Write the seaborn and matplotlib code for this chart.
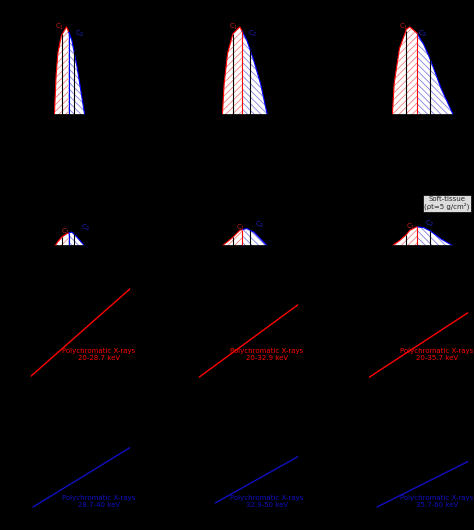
import matplotlib
matplotlib.use("Agg")
import matplotlib.pyplot as plt
import seaborn as sns
import numpy as np

sns.set_theme(style="white")
plt.rcParams['font.family'] = ['DejaVu Sans']
plt.rcParams['hatch.linewidth'] = 0.6

kvp = [28.7, 32.9, 35.7]
split = [24.1, 25.6, 27.2]
vlines = [[22.3, 25.6], [23.0, 28.0], [23.8, 30.7]]
spec_e = [[20, 20.5, 21, 22, 23.5, 25, 26.5, 28.7],
          [20, 20.5, 21.5, 23, 25, 27, 29, 31, 32.9],
          [20, 20.5, 22, 24, 25, 27, 29, 31, 34, 37.5]]
spec_i = [[0, 0.45, 0.7, 0.9, 1.0, 0.85, 0.55, 0.0],
          [0, 0.35, 0.7, 0.92, 1.0, 0.85, 0.62, 0.35, 0.0],
          [0, 0.35, 0.75, 0.97, 1.0, 0.93, 0.8, 0.62, 0.3, 0.0]]
soft_i = [[0, 0.02, 0.05, 0.1, 0.14, 0.16, 0.1, 0.0],
          [0, 0.02, 0.05, 0.1, 0.18, 0.2, 0.16, 0.08, 0.0],
          [0, 0.02, 0.06, 0.13, 0.18, 0.22, 0.21, 0.17, 0.08, 0.0]]
red_x = [[0, 1], [0, 1], [0, 1]]
red_y = [[0.03, 0.92], [0.02, 0.76], [0.02, 0.68]]
blue_x = [[0.03, 1], [0.17, 1], [0.09, 1]]
blue_y = [[0.03, 0.63], [0.07, 0.54], [0.03, 0.49]]
red_lab = ["20-28.7 keV", "20-32.9 keV", "20-35.7 keV"]
blue_lab = ["28.7-40 keV", "32.9-50 keV", "35.7-60 keV"]

W, H = 474, 530
fig = plt.figure(figsize=(4.74, 5.30), dpi=100, facecolor="black")
colx = [30, 198, 368]
rows = [(18, 115), (150, 246), (280, 380), (410, 510)]

def mkax(c, r):
    x0 = colx[c]; y0, y1 = rows[r]
    ax = fig.add_axes([x0 / W, 1 - y1 / H, 101 / W, (y1 - y0) / H])
    ax.set_facecolor("black")
    for s in ax.spines.values():
        s.set_color("black")
    ax.set_xticks([]); ax.set_yticks([])
    return ax

for c in range(3):
    for r, inten in enumerate([spec_i[c], soft_i[c]]):
        ax = mkax(c, r)
        e = np.array(spec_e[c]); i = np.array(inten)
        ee = np.linspace(e[0], e[-1], 200)
        ii = np.interp(ee, e, i)
        m = ee <= split[c]
        k = np.argmax(~m)
        ax.fill_between(ee[:k + 1], 0, ii[:k + 1], facecolor="white", edgecolor="#f08080", hatch="/////", lw=0)
        ax.fill_between(ee[k - 1:], 0, ii[k - 1:], facecolor="white", edgecolor="#8080e0", hatch="\\\\\\\\\\", lw=0)
        ax.plot(ee[:k + 1], ii[:k + 1], color="red", lw=0.8)
        ax.plot(ee[k:], ii[k:], color="blue", lw=0.8)
        for v in vlines[c]:
            ax.vlines(v, 0, np.interp(v, e, i), color="black", lw=0.8)
        ax.vlines(split[c], 0, np.interp(split[c], e, i), color="blue" if c == 0 else "red", lw=0.8)
        ax.set_xlim(13, 42); ax.set_ylim(0, 1.1)
        pk = e[np.argmax(i)]
        ax.text(pk - 3.2, i.max() * 1.0 - 0.02, "C$_1$", color="#c02020", fontsize=5)
        ax.text(pk + 2.5, i.max() * 0.85 + 0.05, "C$_2$", color="#2020c0", fontsize=5)
    if c == 2:
        fig.text(447 / W, 1 - 203 / H, "Soft-tissue\n(ρt=5 g/cm²)", fontsize=5, ha="center", va="center",
                 bbox=dict(facecolor="#dddddd", edgecolor="black", pad=1, lw=0.5))
    ax = mkax(c, 2)
    sns.lineplot(x=red_x[c], y=red_y[c], color="red", lw=1, ax=ax)
    ax.set_xlim(0, 1); ax.set_ylim(0, 1); ax.set_xticks([]); ax.set_yticks([])
    ax.text(0.68, 0.2, "Polychromatic X-rays\n" + red_lab[c], color="red", fontsize=5, ha="center", transform=ax.transAxes)
    ax = mkax(c, 3)
    sns.lineplot(x=blue_x[c], y=blue_y[c], color="#1010c0", lw=1, ax=ax)
    ax.set_xlim(0, 1); ax.set_ylim(0, 1); ax.set_xticks([]); ax.set_yticks([])
    ax.text(0.68, 0.03, "Polychromatic X-rays\n" + blue_lab[c], color="#1010c0", fontsize=5, ha="center", transform=ax.transAxes)

fig.savefig("out.png", dpi=100, facecolor="black")
